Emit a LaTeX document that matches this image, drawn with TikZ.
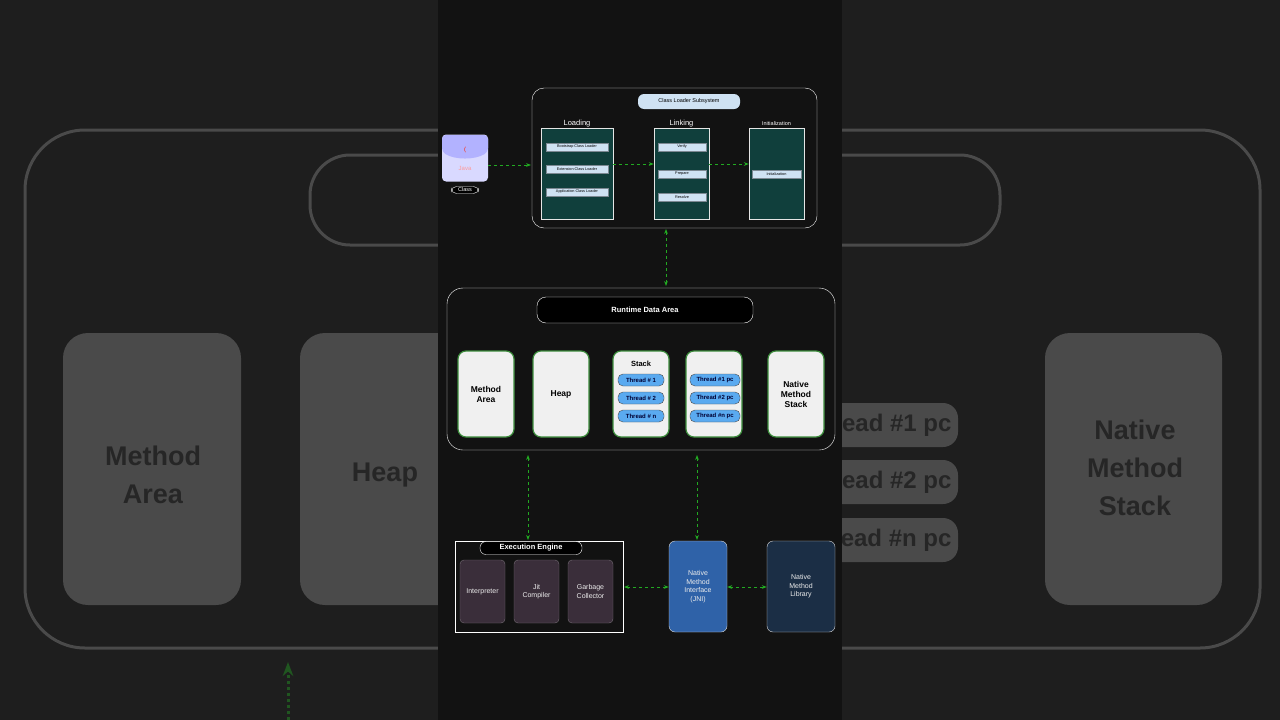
\documentclass[tikz,border=0pt]{standalone}
\usepackage{fontspec}
\setmainfont{Liberation Sans}
\setsansfont{Liberation Sans}
\usetikzlibrary{arrows.meta}
\definecolor{sidebg}{HTML}{1E1E1E}
\definecolor{panel}{HTML}{121212}
\definecolor{teal}{HTML}{103F3C}
\definecolor{lblue}{HTML}{CFE2F3}
\definecolor{card}{HTML}{F0F0F0}
\definecolor{gglow}{HTML}{3C8C3C}
\definecolor{tblue}{HTML}{5AAAF0}
\definecolor{eng}{HTML}{3A2E3A}
\definecolor{jni}{HTML}{2F62A8}
\definecolor{lib}{HTML}{1B2E45}
\definecolor{arr}{HTML}{22AA22}
\definecolor{dimc}{HTML}{4A4A4A}
\definecolor{dimt}{HTML}{262626}
\begin{document}
\begin{tikzpicture}[x=1pt,y=-1pt,
  every node/.style={font=\sffamily},
  ga/.style={draw=arr, dashed, line width=0.9pt, -{Stealth[length=5pt]}},
  gab/.style={draw=arr, dashed, line width=0.9pt, {Stealth[length=5pt]}-{Stealth[length=5pt]}},
  small/.style={fill=lblue, draw=lblue!60!black, minimum height=8pt, inner sep=0pt, font=\sffamily\fontsize{3.8}{4}\selectfont, text=black},
  cardst/.style={fill=card, draw=gglow, line width=1.2pt, rounded corners=8pt, minimum width=56pt, minimum height=86pt, align=center, font=\sffamily\bfseries\fontsize{8.5}{10}\selectfont},
  tp/.style={fill=tblue, draw=black!70, rounded corners=5pt, minimum height=12pt, inner sep=0pt, font=\sffamily\bfseries\fontsize{6}{7}\selectfont, text=black!80!blue},
  sub/.style={fill=eng, draw=eng!70!white, rounded corners=4pt, minimum width=45pt, minimum height=63pt, align=center, text=white!85!gray, font=\sffamily\fontsize{7}{8.5}\selectfont}]
\useasboundingbox (0,0) rectangle (1280,720);
\fill[sidebg] (0,0) rectangle (1280,720);
% blurred side background
\draw[dimc, line width=3pt, rounded corners=60pt] (25,130) rectangle (1260,648);
\draw[dimc, line width=3pt, rounded corners=40pt] (310,155) rectangle (1000,245);
\fill[dimc, rounded corners=25pt] (63,333) rectangle (241,605);
\fill[dimc, rounded corners=25pt] (300,333) rectangle (480,605);
\fill[dimc, rounded corners=25pt] (1045,333) rectangle (1222,605);
\node[text=dimt, font=\sffamily\bfseries\fontsize{27}{38}\selectfont, align=center] (bma) at (153,475) {Method\\Area};
\node[text=dimt, font=\sffamily\bfseries\fontsize{27}{38}\selectfont] (bhp) at (385,475) {Heap};
\node[text=dimt, font=\sffamily\bfseries\fontsize{27}{38}\selectfont, align=center] (bns) at (1135,468) {Native\\Method\\Stack};
\foreach \yy/\tt in {425/ead \#1 pc,482/ead \#2 pc,540/ead \#n pc}{
  \fill[dimc, rounded corners=15pt] (800,\yy-22) rectangle (958,\yy+22);
  \node[text=dimt, font=\sffamily\bfseries\fontsize{24}{26}\selectfont, anchor=east] at (955,\yy) {\tt};
}
\coordinate (bu1) at (288,720); \coordinate (bu2) at (288,662);
\draw[draw=arr!40!sidebg, dashed, line width=3pt, -{Stealth[length=14pt]}] (bu1) -- (bu2);
% center panel
\fill[panel] (438,0) rectangle (842,720);
% class file
\node[fill=blue!15!white, rounded corners=4pt, minimum width=46pt, minimum height=47pt, inner sep=0pt] (java) at (465,158) {};
\fill[blue!30!white, rounded corners=4pt] (442,135) -- (488,135) -- (488,152) .. controls (475,160) and (455,160) .. (442,152) -- cycle;
\node[text=pink!80!red, font=\fontsize{6}{7}\selectfont] (jt) at (465,168) {Java};
\node[text=red!70!orange, font=\fontsize{6}{7}\selectfont, inner sep=0pt] (jcup) at (465,150) {(};
\node[draw=white, fill=black, rounded corners=5pt, text=white, font=\sffamily\fontsize{5.5}{6}\selectfont, inner sep=1.5pt, minimum width=27pt] (cls) at (465,190) {Class};
% class loader subsystem
\draw[white, rounded corners=12pt] (532,88) rectangle (817,228);
\node[fill=lblue, rounded corners=6pt, minimum width=102pt, minimum height=15pt, inner sep=0pt, font=\sffamily\fontsize{5.5}{6}\selectfont] (clt) at (689,101.5) {Class Loader Subsystem};
\node[fill=teal, draw=white!80!gray, minimum width=72pt, minimum height=91pt, inner sep=0pt] (load) at (577,173.5) {};
\node[fill=teal, draw=white!80!gray, minimum width=55pt, minimum height=91pt, inner sep=0pt] (link) at (681.5,173.5) {};
\node[fill=teal, draw=white!80!gray, minimum width=55pt, minimum height=91pt, inner sep=0pt] (init) at (776.5,173.5) {};
\node[text=white, font=\sffamily\fontsize{7.5}{8}\selectfont] (lt1) at (577,124) {Loading};
\node[text=white, font=\sffamily\fontsize{7.5}{8}\selectfont] (lt2) at (681.5,123.5) {Linking};
\node[text=white, font=\sffamily\fontsize{5.5}{6}\selectfont] (lt3) at (776.5,124) {Initialization};
\node[small, minimum width=62pt] (b1) at (577,147) {Bootstrap Class Loader};
\node[small, minimum width=62pt] (b2) at (577,169) {Extension Class Loader};
\node[small, minimum width=62pt] (b3) at (577,192) {Application Class Loader};
\node[small, minimum width=48pt] (v1) at (682,147) {Verify};
\node[small, minimum width=48pt] (v2) at (682,174) {Prepare};
\node[small, minimum width=48pt] (v3) at (682,197) {Resolve};
\node[small, minimum width=49pt] (i1) at (776.5,174) {Initialization};
\draw[ga] (java.east |- 0,165) -- (531,165);
\draw[ga] (load.east |- 0,164) -- (link.west |- 0,164);
\draw[ga] (link.east |- 0,164) -- (init.west |- 0,164);
% runtime data area
\draw[white, rounded corners=16pt] (447,288) rectangle (835,450);
\node[draw=white, fill=black, rounded corners=9pt, minimum width=216pt, minimum height=26pt, text=white, font=\sffamily\bfseries\fontsize{7.5}{8}\selectfont] (rdt) at (645,310) {Runtime Data Area};
\coordinate (t1) at (666,229); \coordinate (t2) at (666,286);
\draw[gab] (t1) -- (t2);
\node[cardst] (ma) at (486,394) {Method\\Area};
\node[cardst] (hp) at (561,394) {Heap};
\node[cardst] (st) at (641,394) {};
\node[cardst] (pc) at (714,394) {};
\node[cardst] (ns) at (796,394) {Native\\Method\\Stack};
\node[font=\sffamily\bfseries\fontsize{7.5}{8}\selectfont] (stt) at (641,364) {Stack};
\node[tp, minimum width=46pt] (s1) at (641,380) {Thread \# 1};
\node[tp, minimum width=46pt] (s2) at (641,398) {Thread \# 2};
\node[tp, minimum width=46pt] (s3) at (641,416) {Thread \# n};
\node[tp, minimum width=50pt] (p1) at (715,380) {Thread \#1 pc};
\node[tp, minimum width=50pt] (p2) at (715,398) {Thread \#2 pc};
\node[tp, minimum width=50pt] (p3) at (715,416) {Thread \#n pc};
% bottom
\draw[white] (455,541) rectangle (623,632);
\node[draw=white, fill=black, rounded corners=6pt, minimum width=102pt, minimum height=13pt, inner sep=0pt, text=white, font=\sffamily\bfseries\fontsize{7.5}{8}\selectfont] (eet) at (531,548) {Execution Engine};
\node[sub] (in) at (482.5,591.5) {Interpreter};
\node[sub] (jit) at (536.5,591.5) {Jit\\Compiler};
\node[sub] (gc) at (590.5,591.5) {Garbage\\Collector};
\node[fill=jni, draw=white!70!gray, rounded corners=6pt, minimum width=58pt, minimum height=91pt, align=center, text=white!85!gray, font=\sffamily\fontsize{7}{8.5}\selectfont] (jn) at (698,586.5) {Native\\Method\\Interface\\(JNI)};
\node[fill=lib, draw=white!70!gray, rounded corners=6pt, minimum width=68pt, minimum height=91pt, align=center, text=white!85!gray, font=\sffamily\fontsize{7}{8.5}\selectfont] (nl) at (801,586.5) {Native\\Method\\Library};
\coordinate (a1) at (528,455); \coordinate (a2) at (528,540);
\draw[gab] (a1) -- (a2);
\coordinate (a3) at (697,455); \coordinate (a4) at (697,540);
\draw[gab] (a3) -- (a4);
\coordinate (e1) at (624,587);
\draw[gab] (e1) -- (jn.west |- 0,587);
\draw[gab] (jn.east |- 0,587) -- (nl.west |- 0,587);
\end{tikzpicture}
\end{document}
